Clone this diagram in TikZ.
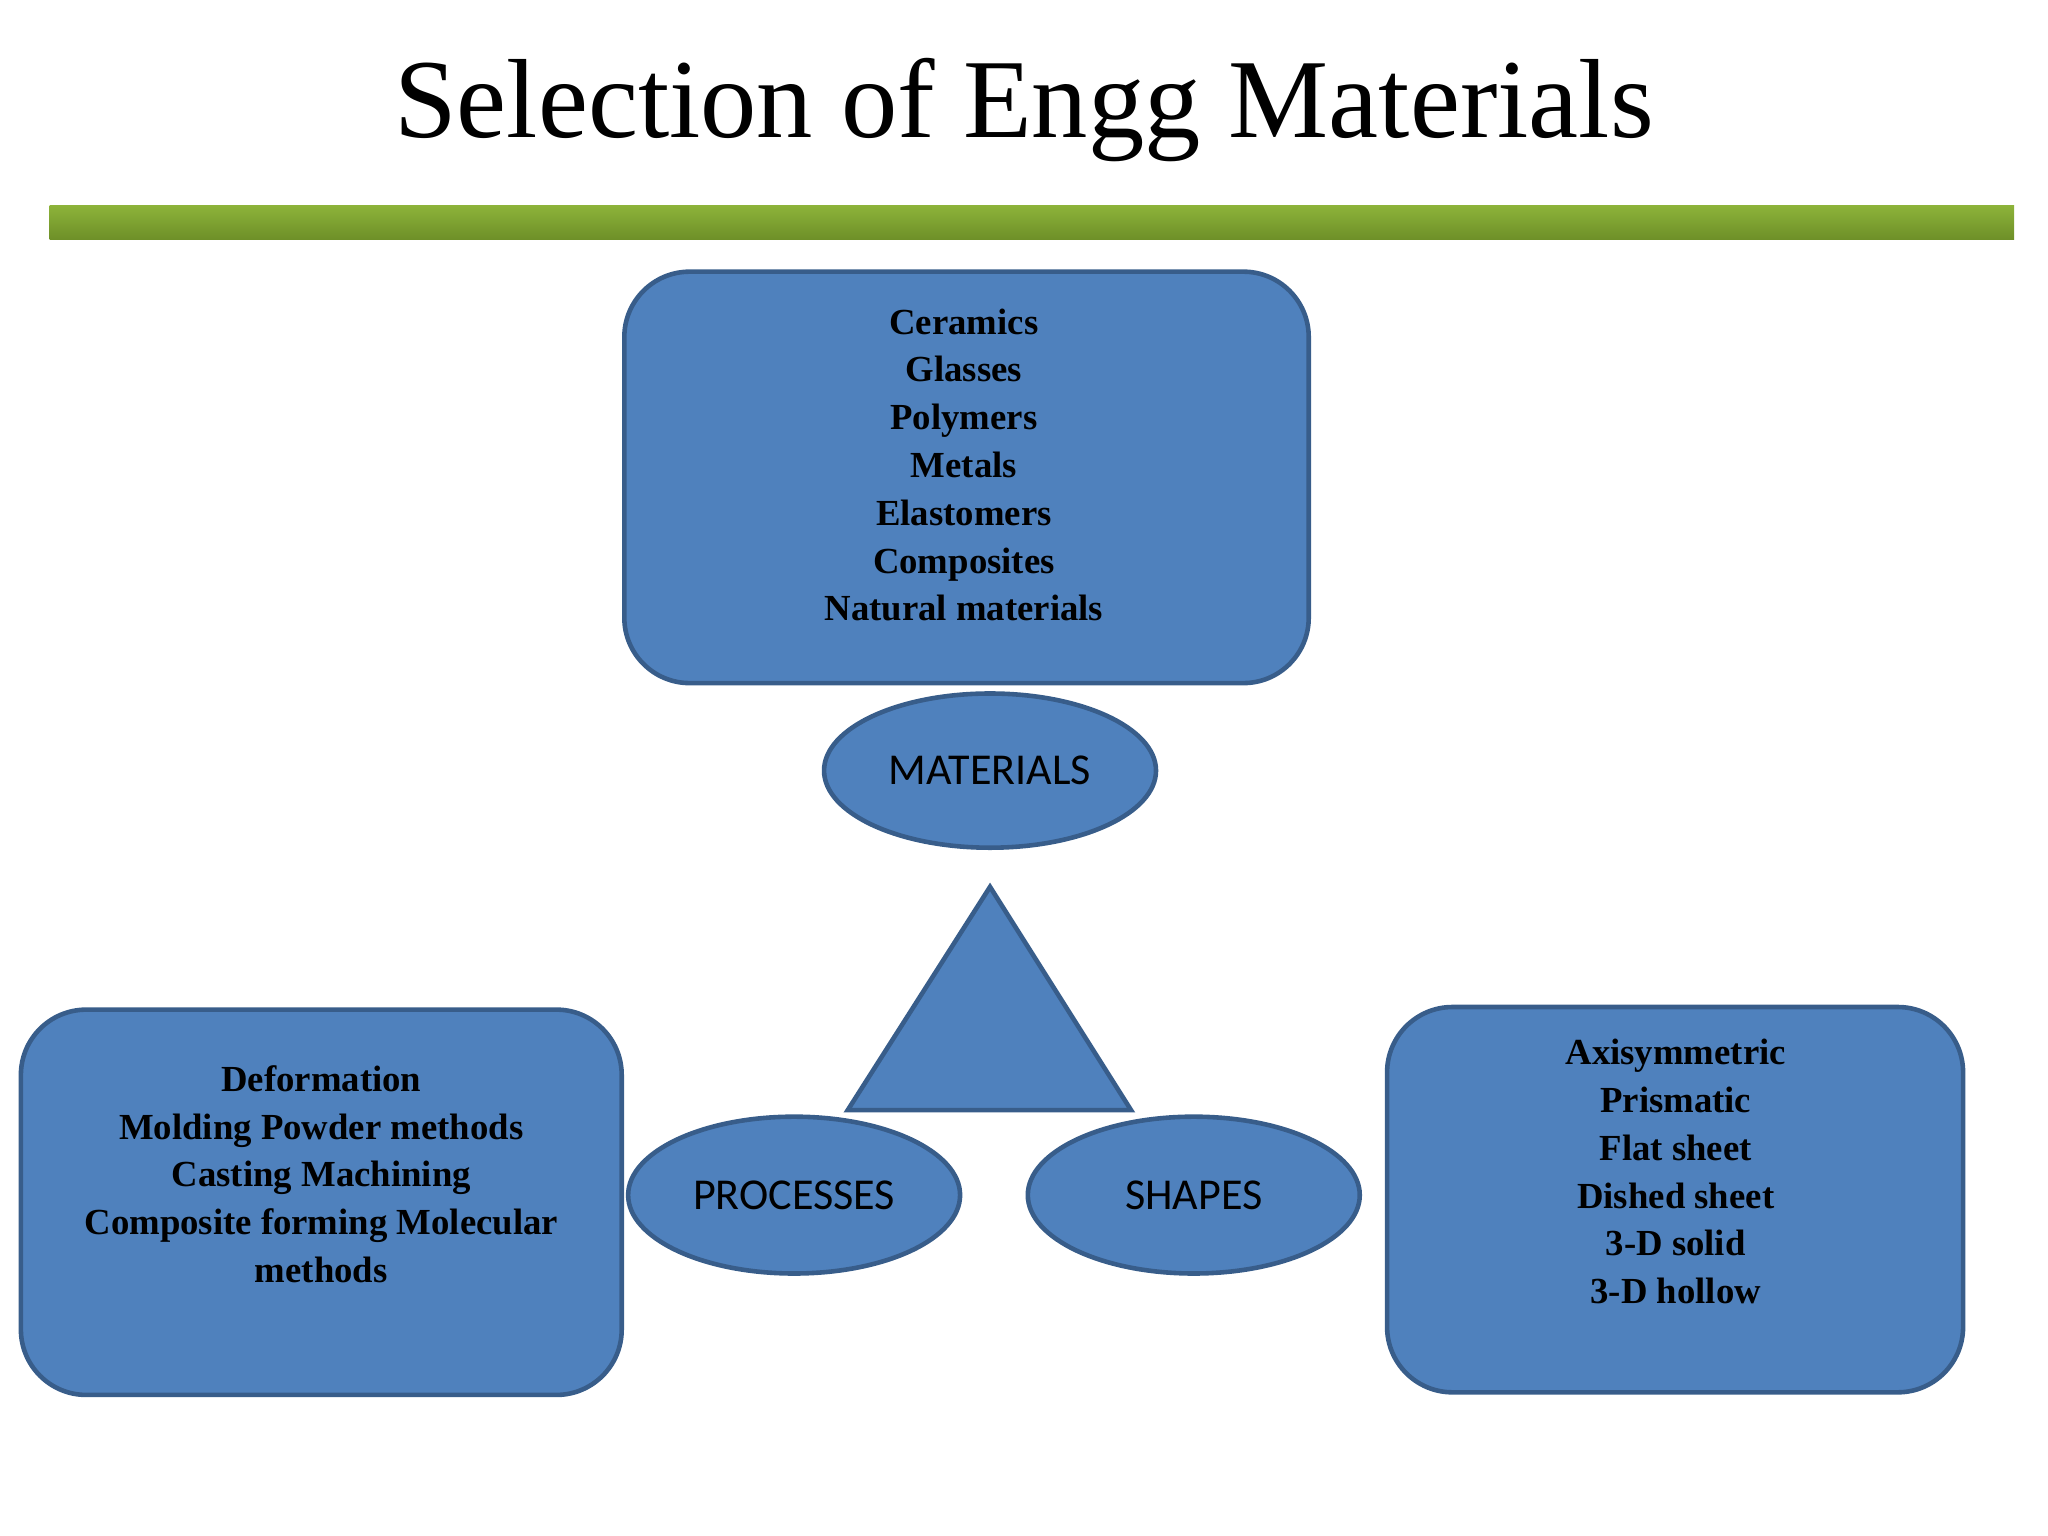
\documentclass[tikz,border=0pt]{standalone}
\usepackage{fontspec}
\setmainfont{Liberation Serif}
\newfontfamily\sansf{Carlito}
\usetikzlibrary{shapes.geometric}
\definecolor{boxfill}{HTML}{4F81BD}
\definecolor{boxline}{HTML}{385D8A}
\definecolor{barg}{HTML}{8DB33A}
\definecolor{bargd}{HTML}{6E9028}
\begin{document}
\begin{tikzpicture}[x=0.01cm,y=-0.01cm,
  box/.style={draw=boxline,fill=boxfill,line width=1pt,rounded corners=0.5cm},
  ell/.style={ellipse,draw=boxline,fill=boxfill,line width=1pt,minimum width=254\pgfmathresult,inner sep=0pt,font=\sansf\fontsize{9.6}{11}\selectfont},
  lst/.style={align=center,font=\bfseries\fontsize{8}{10.4}\selectfont}]
\useasboundingbox (0,0) rectangle (1568,1176);
\node (title) at (784,84) {\fontsize{24.5}{28}\selectfont Selection of Engg Materials};
\shade[top color=barg,bottom color=bargd] (38,157) rectangle (1542,183);
\draw[box] (478,208) rectangle (1002,523);
\node[lst] (mat) at (738,356) {Ceramics\\Glasses\\Polymers\\Metals\\Elastomers\\Composites\\Natural materials};
\node[ell,minimum width=2.54cm,minimum height=1.18cm] (m) at (758,590) {MATERIALS};
\draw[draw=boxline,fill=boxfill,line width=1pt] (758,679) -- (866,850) -- (649,850) -- cycle;
\node[ell,minimum width=2.54cm,minimum height=1.2cm] (p) at (608,915) {PROCESSES};
\node[ell,minimum width=2.54cm,minimum height=1.2cm] (s) at (914,915) {SHAPES};
\draw[box] (16,773) rectangle (476,1068);
\node[lst] (proc) at (246,899) {Deformation\\Molding Powder methods\\Casting Machining\\Composite forming Molecular\\methods};
\draw[box] (1062,771) rectangle (1503,1066);
\node[lst] (shp) at (1283,897) {Axisymmetric\\Prismatic\\Flat sheet\\Dished sheet\\3-D solid\\3-D hollow};
\end{tikzpicture}
\end{document}
